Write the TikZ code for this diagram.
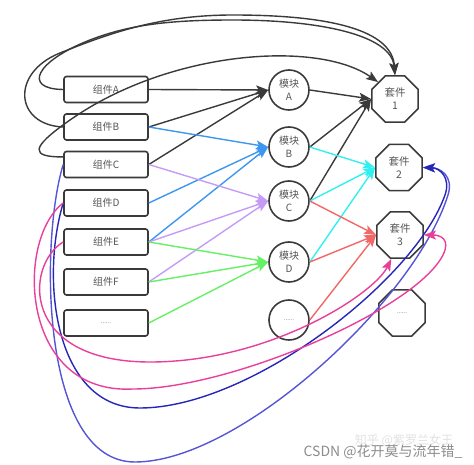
\documentclass[tikz,border=0pt]{standalone}
\usepackage{fontspec}
\newfontfamily\cjk{Noto Sans CJK SC}
\usetikzlibrary{shapes.geometric,arrows.meta}

\definecolor{edgegray}{HTML}{3A3A3A}
\definecolor{textgray}{HTML}{555555}
\definecolor{linkblue}{HTML}{3D97F0}
\definecolor{linkviolet}{HTML}{C49BF7}
\definecolor{linkgreen}{HTML}{66F066}
\definecolor{linkcyan}{HTML}{33F0F0}
\definecolor{linkred}{HTML}{F26868}
\definecolor{linknavy}{HTML}{2626B8}
\definecolor{linkindigo}{HTML}{5555D5}
\definecolor{linkpink}{HTML}{E8409A}

\begin{document}
\begin{tikzpicture}[x=1pt, y=1pt,
    >={Stealth[length=12pt,width=9pt,inset=2.5pt]},
    part/.style={draw=edgegray, line width=1.6pt, rounded corners=2.5pt, minimum width=84pt, minimum height=26pt, inner sep=0pt, text=textgray, font=\cjk\fontsize{10}{12}\selectfont},
    module/.style={circle, draw=edgegray, line width=1.6pt, minimum size=40pt, inner sep=0pt, align=center, text=textgray, font=\cjk\fontsize{10}{13}\selectfont},
    kit/.style={regular polygon, regular polygon sides=8, draw=edgegray, line width=1.6pt, minimum size=50pt, inner sep=0pt, align=center, text=textgray, font=\cjk\fontsize{10.5}{13}\selectfont},
    dots/.style={font=\cjk\fontsize{6}{7}\selectfont},
    link/.style={->, line width=1.4pt}]

    \useasboundingbox (0,0) rectangle (474,-465);

    % Components
    \node[part] (ca) at (106,-89.5) {组件A};
    \node[part] (cb) at (106,-127) {组件B};
    \node[part] (cc) at (106,-164.5) {组件C};
    \node[part] (cd) at (106,-203) {组件D};
    \node[part] (ce) at (106,-242) {组件E};
    \node[part] (cf) at (106,-282) {组件F};
    \node[part, dots] (cg) at (106,-323) {......};

    % Modules
    \node[module] (ma) at (289,-90) {模块\\A};
    \node[module] (mb) at (289,-147) {模块\\B};
    \node[module] (mc) at (289,-201) {模块\\C};
    \node[module] (md) at (289,-262) {模块\\D};
    \node[module, dots] (me) at (289,-320) {......};

    % Kits
    \node[kit] (k1) at (395,-99) {套件\\1};
    \node[kit] (k2) at (399,-167.5) {套件\\2};
    \node[kit] (k3) at (400,-235) {套件\\3};
    \node[kit, dots] (k4) at (402,-313) {......};

    % Components to modules
    \draw[link, edgegray] (ca.east) -- (ma.west);
    \draw[link, edgegray] (cb.east) -- (ma.west);
    \draw[link, edgegray] (cc.east) -- (ma.west);
    \draw[link, linkblue] (cb.east) -- (mb.west);
    \draw[link, linkblue] (cd.east) -- (mb.west);
    \draw[link, linkblue] (ce.east) -- (mb.west);
    \draw[link, linkviolet] (cc.east) -- (mc.west);
    \draw[link, linkviolet] (ce.east) -- (mc.west);
    \draw[link, linkviolet] (cf.east) -- (mc.west);
    \draw[link, linkgreen] (ce.east) -- (md.west);
    \draw[link, linkgreen] (cf.east) -- (md.west);
    \draw[link, linkgreen] (cg.east) -- (md.west);

    % Modules to kits
    \draw[link, edgegray] (ma.east) -- (k1.west);
    \draw[link, edgegray] (mb.east) -- (k1.west);
    \draw[link, edgegray] (mc.east) -- (k1.west);
    \draw[link, linkcyan] (mb.east) -- (k2.west);
    \draw[link, linkcyan] (mc.east) -- (k2.west);
    \draw[link, linkcyan] (md.east) -- (k2.west);
    \draw[link, linkred] (mc.east) -- (k3.west);
    \draw[link, linkred] (md.east) -- (k3.west);
    \draw[link, linkred] (me.east) -- (k3.west);

    % Components straight to kit 1 (over the top)
    \draw[link, edgegray] (ca.west) .. controls (22,-89) and (36,-61) .. (90,-40)
        .. controls (130,-24.5) and (170,-20) .. (233,-20)
        .. controls (320,-20) and (391,-35) .. (k1.north);
    \draw[link, edgegray] (cb.west) .. controls (15,-125) and (10,-73) .. (60,-53)
        .. controls (110,-33) and (160,-15) .. (233,-15)
        .. controls (330,-15) and (392,-30) .. (k1.north);
    \draw[link, edgegray] (cc.170) .. controls (30,-157) and (30,-148) .. (70,-120)
        .. controls (170,-50) and (318,-40) .. (k1.135);

    % Components straight to kit 2 (under the bottom)
    \draw[link, linkindigo] (cc.west) .. controls (40,-240) and (40,-462) .. (135,-462)
        .. controls (240,-462) and (415,-300) .. (448,-195)
        .. controls (454,-176) and (440,-168) .. (k2.east);
    \draw[link, linknavy] (cd.west) .. controls (40,-280) and (55,-408) .. (140,-408)
        .. controls (250,-408) and (415,-280) .. (445,-195)
        .. controls (451,-178) and (440,-168) .. (k2.east);

    % Components straight to kit 3 (under the bottom)
    \draw[link, linkpink] (cd.west) .. controls (15,-240) and (20,-395) .. (133,-389)
        .. controls (230,-389) and (415,-310) .. (443,-255)
        .. controls (451,-239) and (440,-235) .. (k3.east);
    \draw[link, linkpink] (ce.west) .. controls (25,-265) and (20,-362) .. (150,-362)
        .. controls (270,-362) and (374,-294) .. (k3.250);

    % Watermarks
    \node[text=black!12, font=\cjk\fontsize{12}{14}\selectfont] (zhihu) at (404,-440) {知乎 @紫罗兰女王};
    \node[text=black!45, font=\cjk\fontsize{14}{16}\selectfont, anchor=east] (csdn) at (466,-452) {CSDN @花开莫与流年错\_};

\end{tikzpicture}
\end{document}
